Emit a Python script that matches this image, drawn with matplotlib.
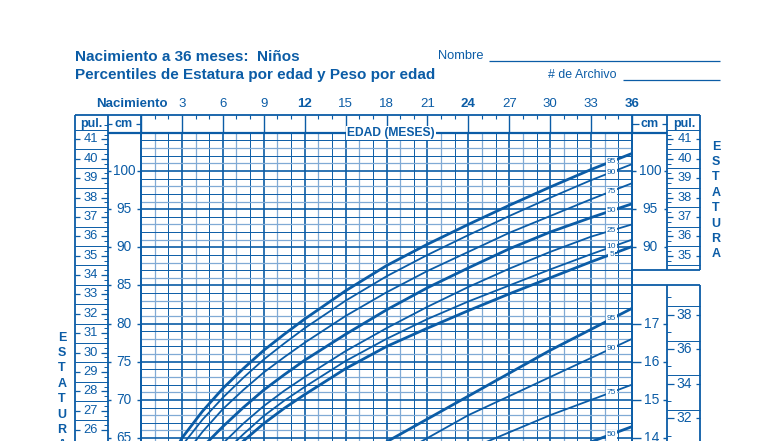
import numpy as np
import matplotlib.pyplot as plt

# Edad en meses
meses = [0, 1.5, 3, 4.5, 6, 7.5, 9, 10.5, 12, 15, 18, 21, 24, 27, 30, 33, 36]

# Estatura por edad, niños (cm)
est_p95 = [54.0, 60.0, 65.0, 68.5, 71.5, 74.1, 76.5, 78.6, 80.6, 84.3, 87.6, 90.4, 93.0, 95.5, 97.9, 100.2, 102.3]
est_p90 = [53.0, 59.0, 64.0, 67.4, 70.3, 72.9, 75.3, 77.4, 79.4, 83.0, 86.2, 89.0, 91.6, 94.1, 96.5, 98.8, 100.9]
est_p75 = [52.0, 57.6, 62.3, 65.8, 68.8, 71.3, 73.6, 75.6, 77.5, 81.0, 84.1, 86.9, 89.4, 91.9, 94.1, 96.3, 98.4]
est_p50 = [49.9, 55.8, 60.5, 63.8, 66.5, 69.0, 71.3, 73.3, 75.2, 78.6, 81.8, 84.7, 87.3, 89.8, 92.0, 93.9, 95.7]
est_p25 = [48.0, 53.8, 58.5, 61.6, 64.3, 66.9, 69.2, 71.2, 73.0, 76.4, 79.4, 82.2, 84.8, 87.2, 89.4, 91.4, 93.0]
est_p10 = [46.9, 52.6, 57.2, 60.2, 62.9, 65.5, 67.9, 69.9, 71.7, 75.1, 78.0, 80.6, 82.9, 85.0, 87.1, 89.1, 91.0]
est_p5 = [46.3, 51.9, 56.4, 59.3, 62.0, 64.6, 66.9, 68.9, 70.7, 74.1, 77.0, 79.4, 81.7, 83.9, 86.0, 88.1, 90.1]

# Peso por edad, niños (kg), solo la parte visible
meses_peso = [15, 18, 21, 24, 27, 30, 33, 36]
peso_p95 = [13.3, 13.9, 14.5, 15.1, 15.7, 16.3, 16.85, 17.4]
peso_p90 = [12.8, 13.4, 14.0, 14.6, 15.1, 15.6, 16.1, 16.6]
peso_p75 = [12.2, 12.7, 13.2, 13.7, 14.15, 14.6, 15.0, 15.4]
peso_p50 = [11.4, 11.9, 12.35, 12.75, 13.1, 13.5, 13.9, 14.3]

etiquetas_edad = [3, 6, 9, 12, 15, 18, 21, 24, 27, 30, 33, 36]
pulgadas_izq = list(range(26, 42))
pulgadas_der = list(range(35, 42))
cm_izq = [65, 70, 75, 80, 85, 90, 95, 100]
cm_der = [90, 95, 100]
kg_der = [14, 15, 16, 17]
libras_der = [32, 34, 36, 38]

estatura = {95: est_p95, 90: est_p90, 75: est_p75, 50: est_p50,
            25: est_p25, 10: est_p10, 5: est_p5}
peso = {95: peso_p95, 90: peso_p90, 75: peso_p75, 50: peso_p50}

AZUL = '#0b5ca6'
CLARO = '#80aad5'
plt.rcParams['font.family'] = ['Liberation Sans', 'DejaVu Sans']


def px_x(px):
    # pixel horizontal -> meses
    return (px - 141) / 13.64


def px_y(py):
    # pixel vertical -> cm
    return 100 - (py - 171) / 7.63


fig = plt.figure(figsize=(7.84, 4.41), dpi=100)
ax = fig.add_axes([0, 0, 1, 1])
ax.set_xlim(px_x(0), px_x(784))
ax.set_ylim(px_y(441), px_y(0))
ax.axis('off')

# eje de peso: 1 kg = 5 cm
axp = ax.twinx()
axp.set_ylim(px_y(441) / 5 + 1, px_y(0) / 5 + 1)
axp.axis('off')

abajo = px_y(441)
arriba = px_y(115)

# cuadricula
for m in range(37):
    if m % 3 == 0:
        c, lw = AZUL, 1.2
    elif m % 3 == 1:
        c, lw = CLARO, 0.9
    else:
        c, lw = AZUL, 0.7
    ax.vlines(m, abajo, 105, colors=c, lw=lw, zorder=1)
    if m % 3 == 0:
        ax.vlines(m, 105, arriba, colors=AZUL, lw=1.0, zorder=1)
    else:
        ax.vlines(m, px_y(119.5), arriba, colors=AZUL, lw=0.8, zorder=1)
ax.vlines([0, 36], abajo, arriba, colors=AZUL, lw=1.3, zorder=2)

for c in range(65, 105):
    if c % 5 == 0:
        col, lw = AZUL, 1.2
    elif c % 5 in (1, 3):
        col, lw = CLARO, 0.9
    else:
        col, lw = AZUL, 0.7
    ax.hlines(c, 0, 36, colors=col, lw=lw, zorder=1)

# marco
ax.hlines(arriba, px_x(75), px_x(700), colors=AZUL, lw=1.3)
ax.hlines(105, px_x(108), px_x(667), colors=AZUL, lw=1.6, zorder=2)
ax.vlines([px_x(75), px_x(108)], abajo, arriba, colors=AZUL, lw=1.3)
ax.vlines([px_x(667), px_x(700)], 87, arriba, colors=AZUL, lw=1.3)
ax.vlines([px_x(667), px_x(700)], abajo, 85, colors=AZUL, lw=1.3)
ax.hlines(87, 36, px_x(700), colors=AZUL, lw=1.3)
ax.hlines(85, 36, px_x(700), colors=AZUL, lw=1.3)

# columna de pulgadas izquierda
for p in pulgadas_izq:
    y = p * 2.54
    ax.text(px_x(91), y, str(p), fontsize=9.3, color=AZUL, ha='center', va='center')
    ax.hlines(y, px_x(75), px_x(80), colors=AZUL, lw=0.9)
    ax.hlines(y, px_x(101), px_x(108), colors=AZUL, lw=0.9)
    ax.hlines(y + 1.27, px_x(75), px_x(108), colors=AZUL, lw=0.7)
    ax.hlines([y + 0.635, y + 1.905], px_x(104), px_x(108), colors=AZUL, lw=0.7)

# columna de pulgadas derecha (estatura)
for p in pulgadas_der:
    y = p * 2.54
    ax.text(px_x(685), y, str(p), fontsize=9.3, color=AZUL, ha='center', va='center')
    ax.hlines(y, px_x(667), px_x(673), colors=AZUL, lw=0.9)
    ax.hlines(y, px_x(696), px_x(700), colors=AZUL, lw=0.9)
    ax.hlines([y + 0.635, y - 0.635], px_x(667), px_x(671), colors=AZUL, lw=0.7)
    if y + 1.27 < arriba:
        ax.hlines(y + 1.27, px_x(667), px_x(700), colors=AZUL, lw=0.7)
ax.hlines(34.5 * 2.54, px_x(667), px_x(700), colors=AZUL, lw=0.7)

# columnas de cm
for c in cm_izq:
    ax.text(px_x(124), c, str(c), fontsize=9.8, color=AZUL, ha='center', va='center')
    ax.hlines(c, px_x(108), px_x(111), colors=AZUL, lw=1.0)
    ax.hlines(c, px_x(137), 0, colors=AZUL, lw=1.0)
for c in cm_der:
    ax.text(px_x(650), c, str(c), fontsize=9.8, color=AZUL, ha='center', va='center')
    ax.hlines(c, 36, px_x(636), colors=AZUL, lw=1.0)
    ax.hlines(c, px_x(664), px_x(667), colors=AZUL, lw=1.0)

# columnas de peso (kg y libras)
for k in kg_der:
    axp.text(px_x(652), k, str(k), fontsize=10, color=AZUL, ha='center', va='center')
    axp.hlines(k, 36, px_x(641), colors=AZUL, lw=1.0)
    axp.hlines(k, px_x(663), px_x(667), colors=AZUL, lw=1.0)
for lb in range(31, 40):
    axp.hlines(lb / 2.20462, px_x(667), px_x(671), colors=AZUL, lw=0.7)
for lb in libras_der:
    y = lb / 2.20462
    axp.text(px_x(684), y, str(lb), fontsize=10, color=AZUL, ha='center', va='center')
    axp.hlines(y, px_x(667), px_x(674), colors=AZUL, lw=0.9)
    axp.hlines(y, px_x(696), px_x(700), colors=AZUL, lw=0.9)
    axp.hlines((lb + 0.5) / 2.20462, px_x(667), px_x(700), colors=AZUL, lw=0.7)

# curvas de estatura
for p, vals in estatura.items():
    lw = 2.0 if p in (95, 50, 5) else 1.3
    ax.plot(meses, vals, color=AZUL, lw=lw, zorder=4, solid_capstyle='butt')
    ax.text(34.5, np.interp(34.5, meses, vals), str(p), fontsize=6, color=AZUL,
            ha='center', va='center', zorder=6,
            bbox=dict(fc='white', ec='none', pad=0.8))

# curvas de peso
for p, vals in peso.items():
    lw = 2.0 if p in (95, 50) else 1.3
    axp.plot(meses_peso, vals, color=AZUL, lw=lw, zorder=4, solid_capstyle='butt')
    axp.text(34.5, np.interp(34.5, meses_peso, vals), str(p), fontsize=6, color=AZUL,
             ha='center', va='center', zorder=6,
             bbox=dict(fc='white', ec='none', pad=0.8))

# textos
ax.text(px_x(75), px_y(57), 'Nacimiento a 36 meses:  Niños', fontsize=11,
        fontweight='bold', color=AZUL, ha='left', va='center')
ax.text(px_x(75), px_y(75), 'Percentiles de Estatura por edad y Peso por edad',
        fontsize=11, fontweight='bold', color=AZUL, ha='left', va='center')
ax.text(px_x(438), px_y(56), 'Nombre', fontsize=9.3, color=AZUL, ha='left', va='center')
ax.hlines(px_y(61), px_x(489), px_x(720), colors=AZUL, lw=0.9)
ax.text(px_x(548), px_y(75), '# de Archivo', fontsize=8.9, color=AZUL, ha='left', va='center')
ax.hlines(px_y(80), px_x(623), px_x(720), colors=AZUL, lw=0.9)

ax.text(px_x(132), px_y(104), 'Nacimiento', fontsize=9.5, fontweight='bold',
        color=AZUL, ha='center', va='center')
for m in etiquetas_edad:
    ax.text(m, px_y(104), str(m), fontsize=9.5, color=AZUL, ha='center', va='center',
            fontweight='bold' if m % 12 == 0 else 'normal')

ax.text(px_x(391), 105, 'EDAD (MESES)', fontsize=8.7, fontweight='bold', color=AZUL,
        ha='center', va='center', zorder=6, bbox=dict(fc='white', ec='none', pad=1.0))

for xp, txt in [(91, 'pul.'), (124, 'cm'), (650, 'cm'), (684, 'pul.')]:
    ax.text(px_x(xp), px_y(123.5), txt, fontsize=9, fontweight='bold', color=AZUL,
            ha='center', va='center', zorder=6, bbox=dict(fc='white', ec='none', pad=0.3))
ax.hlines(px_y(124), px_x(108), px_x(112), colors=AZUL, lw=0.9)
ax.hlines(px_y(124), px_x(136), 0, colors=AZUL, lw=0.9)
ax.hlines(px_y(124), 36, px_x(639), colors=AZUL, lw=0.9)
ax.hlines(px_y(124), px_x(662), px_x(667), colors=AZUL, lw=0.9)

for i, letra in enumerate('ESTATURA'):
    ax.text(px_x(716), px_y(146.5 + i * 15.4), letra, fontsize=9, fontweight='bold',
            color=AZUL, ha='center', va='center')
    ax.text(px_x(62), px_y(337.5 + i * 15.4), letra, fontsize=9, fontweight='bold',
            color=AZUL, ha='center', va='center')

fig.savefig('out.png', dpi=100)
